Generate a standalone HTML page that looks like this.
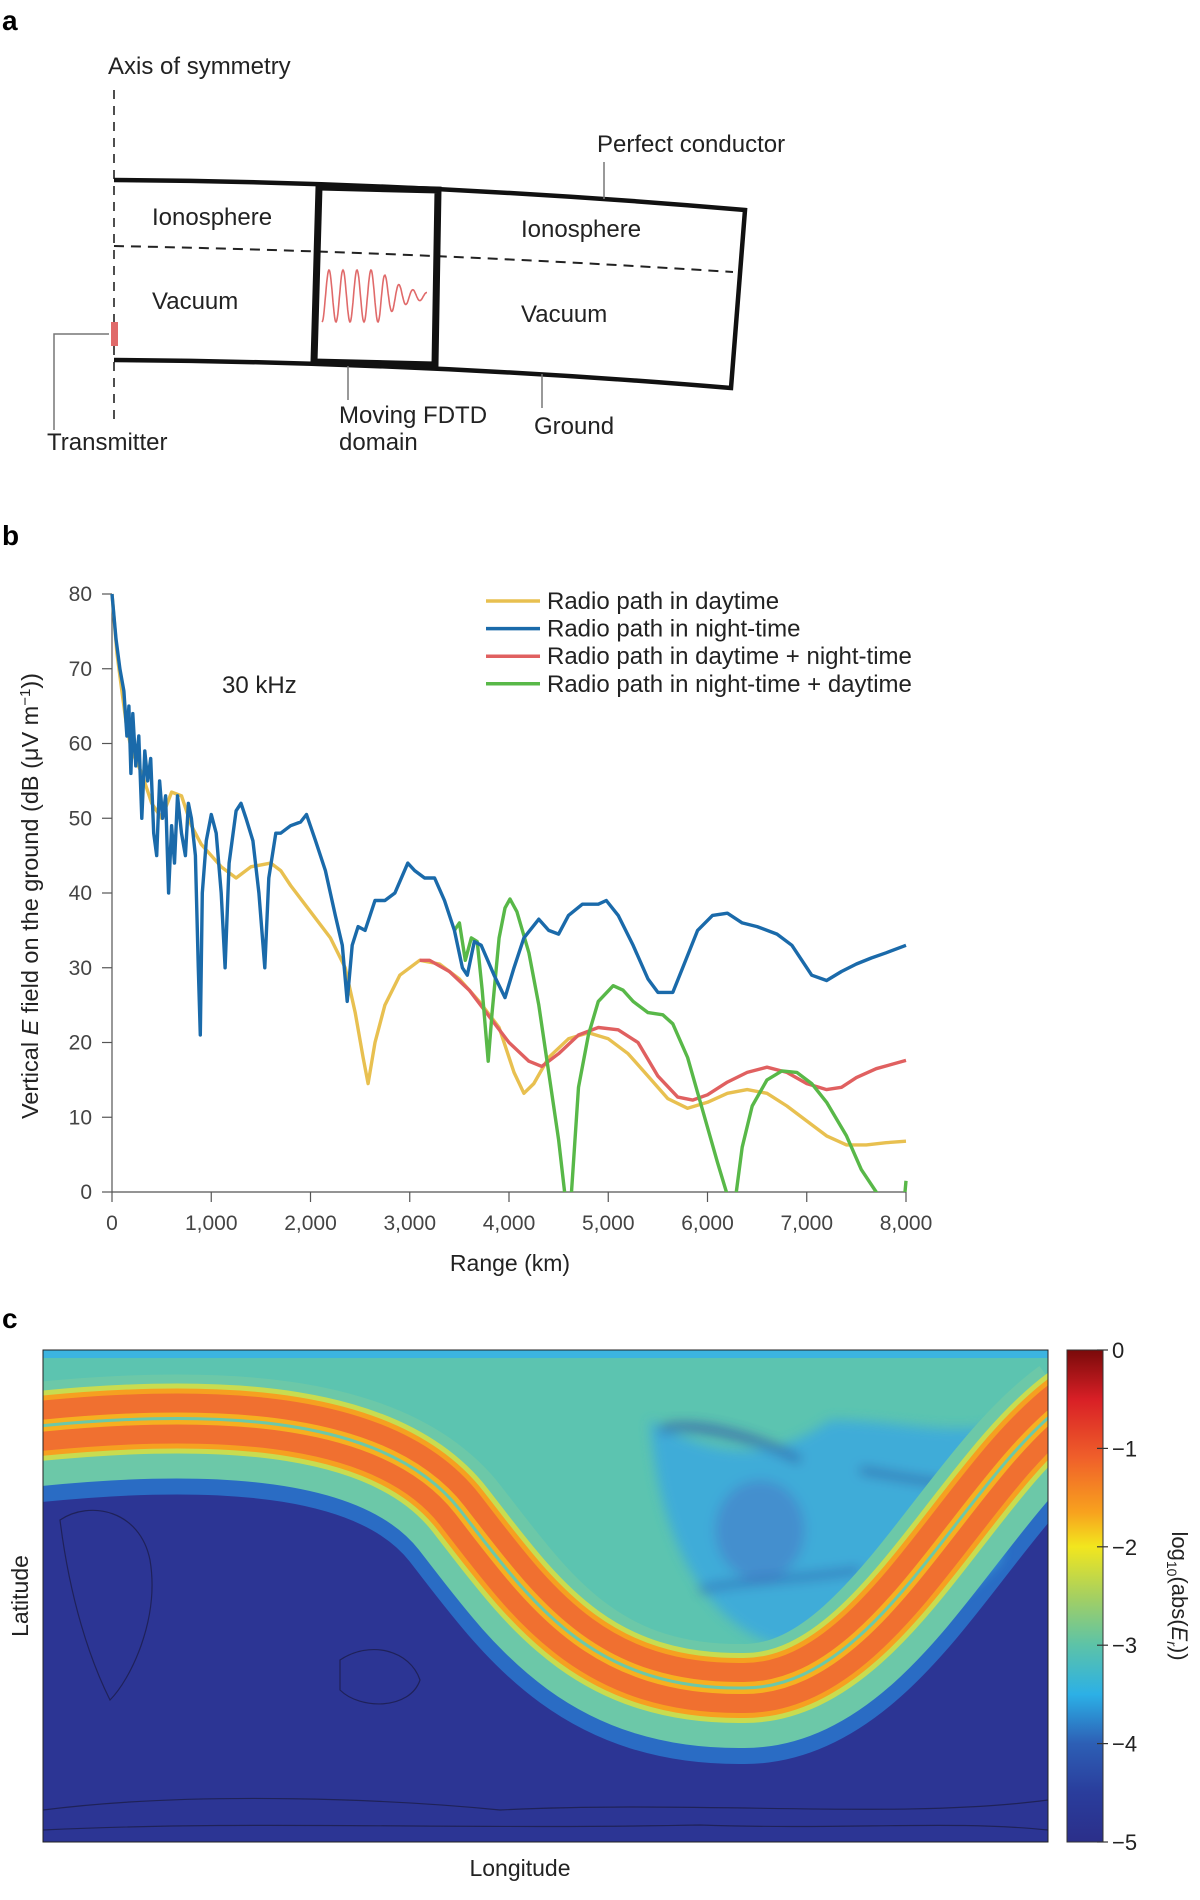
<!DOCTYPE html>
<html><head><meta charset="utf-8"><style>
html,body{margin:0;padding:0;background:#fff;}
svg{display:block;font-family:"Liberation Sans",sans-serif;}
</style></head><body>
<svg id="fig" width="1200" height="1900" viewBox="0 0 1200 1900">
<defs>
 <linearGradient id="cbar" x1="0" y1="0" x2="0" y2="1">
  <stop offset="0" stop-color="#7a0a0a"/><stop offset="0.1" stop-color="#d81f26"/>
  <stop offset="0.22" stop-color="#f0602a"/><stop offset="0.33" stop-color="#f8a21e"/>
  <stop offset="0.4" stop-color="#f2e61e"/><stop offset="0.5" stop-color="#a6d060"/>
  <stop offset="0.6" stop-color="#5cc3a8"/><stop offset="0.7" stop-color="#2cb0e6"/>
  <stop offset="0.8" stop-color="#2d5fb5"/><stop offset="0.9" stop-color="#2a3d9c"/>
  <stop offset="1" stop-color="#2b2f8a"/>
 </linearGradient>
 <clipPath id="mapclip"><rect x="43" y="1350" width="1005" height="492"/></clipPath>
 <clipPath id="plotclip"><rect x="100" y="580" width="820" height="612"/></clipPath>
 <filter id="blur6"><feGaussianBlur stdDeviation="6"/></filter>
 <path id="bc" d="M20 1428 C230 1405 390 1420 460 1510 C530 1600 590 1690 744 1688 C880 1688 960 1480 1070 1400" fill="none"/>
</defs>

<!-- Panel a -->
<g>
 <text x="2" y="30" font-size="28" font-weight="bold">a</text>
 <line x1="114" y1="90" x2="114" y2="420" stroke="#222" stroke-width="1.6" stroke-dasharray="9,7"/>
 <text x="108" y="74" font-size="24" fill="#222">Axis of symmetry</text>
 <path d="M114 180 Q420 182 745 210 L731 388 Q420 362 114 360" fill="none" stroke="#111" stroke-width="4.5"/>
 <path d="M114 246 Q420 252 733 272" fill="none" stroke="#222" stroke-width="2" stroke-dasharray="10,7"/>
 <path d="M319 187 L438 190 L435 365 L314 362 Z" fill="none" stroke="#111" stroke-width="7"/>
 <path id="wave" fill="none" stroke="#e06a6a" stroke-width="1.6"/>
 <rect x="111" y="322" width="7" height="24" fill="#e06a6a"/>
 <polyline points="109,334 54,334 54,430" fill="none" stroke="#777" stroke-width="1.5"/>
 <text x="47" y="450" font-size="24" fill="#222">Transmitter</text>
 <line x1="348" y1="366" x2="348" y2="400" stroke="#777" stroke-width="1.5"/>
 <text x="339" y="423" font-size="24" fill="#222"><tspan x="339">Moving FDTD</tspan><tspan x="339" dy="27">domain</tspan></text>
 <line x1="542" y1="374" x2="542" y2="408" stroke="#777" stroke-width="1.5"/>
 <text x="534" y="434" font-size="24" fill="#222">Ground</text>
 <line x1="604" y1="162" x2="604" y2="199" stroke="#777" stroke-width="1.5"/>
 <text x="597" y="152" font-size="24" fill="#222">Perfect conductor</text>
 <text x="152" y="225" font-size="24" fill="#222">Ionosphere</text>
 <text x="152" y="309" font-size="24" fill="#222">Vacuum</text>
 <text x="521" y="237" font-size="24" fill="#222">Ionosphere</text>
 <text x="521" y="322" font-size="24" fill="#222">Vacuum</text>
</g>

<!-- Panel b -->
<g>
 <text x="2" y="545" font-size="28" font-weight="bold">b</text>
 <g id="axes"></g>
 <g id="series" clip-path="url(#plotclip)"></g>
 <text x="222" y="693" font-size="24" fill="#222">30 kHz</text>
 <text transform="translate(38,896) rotate(-90)" text-anchor="middle" font-size="23.5" fill="#222">Vertical <tspan font-style="italic">E</tspan> field on the ground (dB (μV m<tspan dy="-8" font-size="15">−1</tspan><tspan dy="8">))</tspan></text>
 <text x="510" y="1271" text-anchor="middle" font-size="23" fill="#222">Range (km)</text>
 <g id="legend"></g>
</g>

<!-- Panel c -->
<g>
 <text x="2" y="1328" font-size="28" font-weight="bold">c</text>
 <g clip-path="url(#mapclip)">
  <rect x="43" y="1350" width="1005" height="492" fill="#2c3594"/>
  <use href="#bc" stroke="#2a6cc4" stroke-width="128" transform="translate(0,12)"/>
  <path d="M20 1340 L20 1428 C230 1405 390 1420 460 1510 C530 1600 590 1690 744 1688 C880 1688 960 1480 1070 1400 L1070 1340 Z" fill="#5cc4b0"/>
  <rect x="43" y="1350" width="1005" height="8" fill="#3cb4e0"/>
  <g filter="url(#blur6)" opacity="0.85">
   <path d="M650 1420 C700 1450 760 1470 830 1420 C900 1420 960 1440 1010 1420 L1000 1560 C940 1620 880 1650 800 1650 C720 1640 660 1560 650 1420Z" fill="#3aa8e0"/>
   <ellipse cx="760" cy="1530" rx="45" ry="50" fill="#3f86d4"/>
   <path d="M660 1430 C700 1420 760 1440 800 1460" stroke="#2c45a8" stroke-width="7" fill="none"/>
   <path d="M860 1470 C920 1480 960 1490 990 1480" stroke="#2c45a8" stroke-width="6" fill="none"/>
   <path d="M700 1590 C740 1580 800 1580 860 1570" stroke="#2c55b8" stroke-width="6" fill="none"/>
  </g>
  <use href="#bc" stroke="#6cc8a8" stroke-width="104" transform="translate(0,8)"/>
  <use href="#bc" stroke="#c8dc50" stroke-width="70"/>
  <use href="#bc" stroke="#f6a020" stroke-width="60"/>
  <use href="#bc" stroke="#f07030" stroke-width="50"/>
  <use href="#bc" stroke="#f6b020" stroke-width="12"/>
  <use href="#bc" stroke="#6cc8a8" stroke-width="3"/>
  <g fill="none" stroke="#1a1a40" stroke-width="1.2" opacity="0.7">
   <path d="M60 1520 C90 1500 140 1510 150 1560 C160 1620 130 1680 110 1700 C90 1660 70 1600 60 1520Z"/>
   <path d="M340 1660 C370 1640 410 1650 420 1680 C410 1710 360 1710 340 1690Z"/>
   <path d="M43 1810 C200 1790 400 1800 500 1810 C700 1800 900 1820 1048 1800"/>
   <path d="M43 1830 C250 1820 450 1830 700 1825 C850 1830 950 1820 1048 1830"/>
  </g>
 </g>
 <rect x="43" y="1350" width="1005" height="492" fill="none" stroke="#222" stroke-width="1"/>
 <rect x="1067" y="1350" width="36" height="492" fill="url(#cbar)" stroke="#333" stroke-width="1"/>
 <g id="cbticks"></g>
 <text transform="translate(1172,1596) rotate(90)" text-anchor="middle" font-size="22" fill="#222">log<tspan font-size="14" dy="5">10</tspan><tspan dy="-5">(abs(</tspan><tspan font-style="italic">E</tspan><tspan font-style="italic" font-size="14" dy="5">r</tspan><tspan dy="-5">))</tspan></text>
 <text transform="translate(28,1596) rotate(-90)" text-anchor="middle" font-size="23" fill="#222">Latitude</text>
 <text x="520" y="1876" text-anchor="middle" font-size="23" fill="#222">Longitude</text>
</g>
</svg>
<script>
const xTicks=[0,1000,2000,3000,4000,5000,6000,7000,8000];
const xTickLabels=["0","1,000","2,000","3,000","4,000","5,000","6,000","7,000","8,000"];
const yTicks=[0,10,20,30,40,50,60,70,80];
const seriesNames=["Radio path in daytime","Radio path in night-time","Radio path in daytime + night-time","Radio path in night-time + daytime"];
const seriesColors=["#e8c050","#1a6aaa","#e06060","#58b848"];
const cbTicks=[0,-1,-2,-3,-4,-5];
const cbTickLabels=["0","−1","−2","−3","−4","−5"];
const nightData=[[0,80],[40,74],[80,70],[120,67],[150,61],[170,65],[190,56],[210,64],[240,57],[270,61],[300,50],[330,59],[360,55],[390,58],[420,48],[450,45],[480,55],[510,50],[540,53],[570,40],[600,49],[630,44],[660,53],[700,48],[740,45],[770,52],[800,50],[840,45],[870,30],[890,21],[910,40],[950,47],[1000,50.5],[1050,48],[1100,40],[1140,30],[1180,44],[1250,51],[1300,52],[1350,50],[1420,47],[1480,40],[1540,30],[1580,42],[1650,48],[1700,48],[1800,49],[1900,49.5],[1960,50.5],[2050,47],[2150,43],[2250,37],[2320,33],[2370,25.5],[2420,33],[2480,35.5],[2550,35],[2650,39],[2750,39],[2850,40],[2980,44],[3050,43],[3150,42],[3250,42],[3350,39],[3450,35],[3530,30],[3580,29],[3650,33.5],[3720,33],[3850,29],[3960,26],[4050,30],[4150,34],[4300,36.5],[4400,35],[4500,34.5],[4600,37],[4740,38.5],[4900,38.5],[4980,39],[5100,37],[5250,33],[5400,28.5],[5500,26.7],[5650,26.7],[5750,30],[5900,35],[6050,37],[6200,37.3],[6350,36],[6500,35.5],[6700,34.5],[6850,33],[7050,29],[7200,28.3],[7350,29.5],[7500,30.5],[7650,31.3],[7800,32],[8000,33]];
const dayData=[[0,80],[50,72],[100,67],[150,62],[200,59],[300,56],[400,52],[500,50],[600,53.5],[700,53],[800,49],[900,46.5],[1000,45],[1100,43.5],[1250,42],[1400,43.5],[1600,44],[1700,43],[1800,41],[2000,37.5],[2200,34],[2350,30],[2450,24],[2530,18],[2580,14.5],[2650,20],[2750,25],[2900,29],[3100,31],[3300,30.5],[3500,28.5],[3700,25.5],[3900,22],[4050,16],[4150,13.2],[4250,14.5],[4400,18],[4600,20.5],[4800,21.3],[5000,20.5],[5200,18.5],[5400,15.5],[5600,12.5],[5800,11.2],[6000,12],[6200,13.2],[6400,13.7],[6600,13.2],[6800,11.5],[7000,9.5],[7200,7.5],[7400,6.3],[7600,6.3],[7800,6.6],[8000,6.8]];
const dayNightData=[[3100,31],[3200,31],[3400,29.5],[3600,27],[3800,23.5],[4000,20],[4200,17.5],[4330,16.8],[4500,18.5],[4700,21],[4900,22],[5100,21.7],[5300,20],[5500,15.5],[5700,12.7],[5850,12.3],[6000,13],[6200,14.7],[6400,16],[6600,16.7],[6800,16],[7000,14.5],[7200,13.7],[7350,14],[7500,15.3],[7700,16.5],[8000,17.6]];
const nightDayData=[[3450,35],[3500,36],[3560,31],[3620,34],[3680,33.5],[3730,27],[3790,17.5],[3830,24],[3900,34],[3960,38],[4010,39.2],[4080,37.5],[4200,32],[4300,25],[4400,16],[4500,7],[4560,0],[4585,-4],[4605,-4],[4630,0],[4700,14],[4800,21],[4900,25.5],[5050,27.6],[5150,27],[5250,25.5],[5400,24],[5550,23.7],[5650,22.5],[5800,18],[5950,11],[6100,4],[6190,0],[6210,-4],[6260,-4],[6290,0],[6350,6],[6450,11.5],[6600,15],[6750,16.2],[6900,16],[7050,14.5],[7200,12],[7400,7.5],[7550,3],[7700,0],[7720,-4],[7980,-4],[7990,0],[8000,1.5]];

const NS="http://www.w3.org/2000/svg";
const X0=112,X1=906,Y0=1192,Y1=594;
function sx(v){return X0+(v-0)/8000*(X1-X0);}
function sy(v){return Y0-(v-0)/80*(Y0-Y1);}
function mk(tag,attrs,parent){const e=document.createElementNS(NS,tag);for(const k in attrs)e.setAttribute(k,attrs[k]);parent.appendChild(e);return e;}

(function(){let d="";for(let i=0;i<=200;i++){const t=i/200;const x=322+t*105;const amp=26*Math.exp(-Math.max(0,t-0.55)*4.5);const y=296+amp*Math.cos(t*2*Math.PI*7.5);d+=(i?"L":"M")+x.toFixed(1)+" "+y.toFixed(1);}document.getElementById("wave").setAttribute("d",d);})();

const axes=document.getElementById("axes");
const yAxis=mk("line",{x1:X0,y1:Y1,x2:X0,y2:Y0,stroke:"#555","stroke-width":1.2},axes);


const xAxis=mk("line",{x1:X0,y1:Y0,x2:X1,y2:Y0,stroke:"#555","stroke-width":1.2},axes);


yTicks.forEach(v=>{
  mk("line",{x1:X0-10,y1:sy(v),x2:X0,y2:sy(v),stroke:"#555","stroke-width":1.2},axes);
  const t=mk("text",{x:X0-20,y:sy(v)+7,"text-anchor":"end","font-size":21,fill:"#444"},axes);
  t.textContent=v;
  
  
});
xTicks.forEach((v,i)=>{
  mk("line",{x1:sx(v),y1:Y0,x2:sx(v),y2:Y0+10,stroke:"#555","stroke-width":1.2},axes);
  const t=mk("text",{x:sx(v),y:Y0+38,"text-anchor":"middle","font-size":21,fill:"#444"},axes);
  t.textContent=xTickLabels[i];
  
  
});

const sg=document.getElementById("series");
const order=[[dayData,0,"series-daytime"],[dayNightData,2,"series-daytime-night-time"],[nightDayData,3,"series-night-time-daytime"],[nightData,1,"series-night-time"]];
order.forEach(([data,ci,name])=>{
  const d=data.map((p,i)=>(i?"L":"M")+sx(p[0]).toFixed(1)+" "+sy(p[1]).toFixed(1)).join(" ");
  const p=mk("path",{d:d,fill:"none",stroke:seriesColors[ci],"stroke-width":3.4,"stroke-linejoin":"round"},sg);
  
  
});

const lg=document.getElementById("legend");
seriesNames.forEach((n,i)=>{
  const y=601+i*27.6;
  const l=mk("line",{x1:486,y1:y,x2:540,y2:y,stroke:seriesColors[i],"stroke-width":3.5},lg);
  
  
  const t=mk("text",{x:547,y:y+8,"font-size":24,fill:"#222"},lg);
  t.textContent=n;
  
  
});

const cb=document.getElementById("cbticks");
cbTicks.forEach((v,i)=>{
  const y=1350+(0-v)/5*492;
  mk("line",{x1:1097,y1:y,x2:1108,y2:y,stroke:"#333","stroke-width":1.2},cb);
  const t=mk("text",{x:1112,y:y+8,"font-size":22,fill:"#222"},cb);
  t.textContent=cbTickLabels[i];
  
  
});
</script>
</body></html>
